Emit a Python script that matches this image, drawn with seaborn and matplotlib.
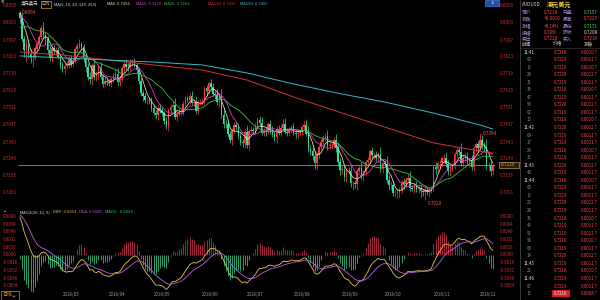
import numpy as np
import pandas as pd
import matplotlib
matplotlib.use("Agg")
import matplotlib.pyplot as plt
from matplotlib.patches import Rectangle
from matplotlib.lines import Line2D
import seaborn as sns

# ---------------- data ----------------
history_closes = [0.7610, 0.7595, 0.7600, 0.7550, 0.7510, 0.7505, 0.7535, 0.7550, 0.7625, 0.7665, 0.7655,
                  0.7665, 0.7675, 0.7680, 0.7690, 0.7705, 0.7710, 0.7730, 0.7765, 0.7790, 0.7805,
                  0.7845, 0.7835, 0.7860, 0.7865, 0.7840, 0.7830, 0.7865, 0.7885, 0.7935, 0.7985, 0.7945,
                  0.7960, 0.7985, 0.8000, 0.7990, 0.7990, 0.8070, 0.8045, 0.8090, 0.8080, 0.8060, 0.8055]

closes_feb = [0.8030, 0.7910, 0.7850, 0.7880, 0.7830, 0.7805, 0.7810, 0.7860, 0.7885, 0.7925,
              0.7975, 0.7935, 0.7910, 0.7850, 0.7810, 0.7860, 0.7845, 0.7850, 0.7815, 0.7765]
closes_mar = [0.7745, 0.7765, 0.7770, 0.7800, 0.7775, 0.7790, 0.7855, 0.7875, 0.7885, 0.7870, 0.7810,
              0.7760, 0.7705, 0.7690, 0.7770, 0.7700, 0.7715, 0.7760, 0.7705, 0.7665, 0.7680, 0.7675]
closes_apr = [0.7670, 0.7690, 0.7705, 0.7720, 0.7675, 0.7695, 0.7750, 0.7775, 0.7760, 0.7755, 0.7780,
              0.7780, 0.7770, 0.7740, 0.7680, 0.7615, 0.7595, 0.7575, 0.7575, 0.7570, 0.7530]
closes_may = [0.7505, 0.7490, 0.7530, 0.7520, 0.7505, 0.7460, 0.7430, 0.7520, 0.7535, 0.7550, 0.7480,
              0.7500, 0.7510, 0.7510, 0.7555, 0.7580, 0.7575, 0.7600, 0.7560, 0.7565, 0.7515, 0.7565, 0.7565]
closes_jun = [0.7570, 0.7640, 0.7625, 0.7670, 0.7645, 0.7610, 0.7605, 0.7565, 0.7595, 0.7495, 0.7445,
              0.7440, 0.7385, 0.7355, 0.7405, 0.7435, 0.7425, 0.7375, 0.7345, 0.7340, 0.7400]
closes_jul = [0.7325, 0.7405, 0.7410, 0.7405, 0.7430, 0.7465, 0.7450, 0.7395, 0.7405, 0.7400, 0.7440,
              0.7410, 0.7385, 0.7370, 0.7415, 0.7395, 0.7420, 0.7445, 0.7400, 0.7395, 0.7410, 0.7425]
closes_aug = [0.7395, 0.7385, 0.7395, 0.7400, 0.7425, 0.7435, 0.7390, 0.7305, 0.7295, 0.7265, 0.7225,
              0.7270, 0.7315, 0.7345, 0.7365, 0.7375, 0.7320, 0.7325, 0.7325, 0.7355, 0.7310, 0.7230, 0.7190]
closes_sep = [0.7190, 0.7150, 0.7185, 0.7180, 0.7115, 0.7115, 0.7110, 0.7185, 0.7200, 0.7155,
              0.7175, 0.7230, 0.7245, 0.7295, 0.7270, 0.7270, 0.7255, 0.7275, 0.7195, 0.7225]
closes_oct = [0.7220, 0.7135, 0.7105, 0.7105, 0.7060, 0.7060, 0.7065, 0.7080, 0.7120, 0.7110, 0.7135,
              0.7145, 0.7090, 0.7085, 0.7105, 0.7085, 0.7090, 0.7070, 0.7065, 0.7075, 0.7065, 0.7080, 0.7085]
closes_nov = [0.7205, 0.7195, 0.7225, 0.7225, 0.7255, 0.7255, 0.7220, 0.7180, 0.7195, 0.7215, 0.7275,
              0.7300, 0.7290, 0.7225, 0.7255, 0.7260, 0.7235, 0.7245, 0.7205, 0.7310, 0.7330, 0.7310]
closes_dec = [0.7355, 0.7325, 0.7315, 0.7215, 0.7215, 0.7180, 0.7216]

# upper / lower shadows in pips
up_wick = [9, 25, 20, 30, 35, 25, 20, 15, 18, 12, 13, 30, 15, 20, 25, 12, 22, 18, 20, 15,
           20, 15, 22, 18, 25, 20, 15, 18, 30, 10, 15, 12, 20, 25, 10, 40, 18, 15, 25, 15, 20, 12,
           18, 15, 20, 25, 30, 15, 12, 20, 25, 18, 20, 22, 25, 12, 20, 15, 18, 20, 15, 18, 20,
           20, 15, 18, 22, 15, 12, 20, 10, 18, 20, 35, 15, 20, 18, 12, 15, 20, 12, 25, 15, 30, 10, 18,
           15, 10, 20, 7, 22, 25, 15, 30, 20, 40, 35, 20, 25, 20, 15, 18, 20, 25, 20, 15, 10,
           35, 10, 20, 15, 18, 15, 20, 30, 15, 20, 12, 25, 20, 18, 15, 20, 15, 25, 30, 20, 15, 12,
           25, 15, 20, 15, 12, 25, 30, 40, 20, 25, 30, 15, 10, 12, 15, 20, 35, 20, 18, 15, 30, 35, 25,
           20, 25, 15, 20, 35, 15, 20, 10, 18, 30, 15, 12, 15, 10, 20, 18, 25, 15, 40, 15,
           20, 45, 25, 20, 30, 15, 18, 15, 12, 25, 15, 20, 40, 15, 12, 25, 18, 20, 15, 25, 18, 12, 15,
           10, 25, 15, 20, 12, 20, 30, 25, 15, 12, 10, 15, 20, 45, 15, 20, 25, 15, 25, 10, 15, 20,
           39, 25, 20, 45, 20, 25, 10]
down_wick = [30, 10, 35, 65, 20, 25, 47, 15, 10, 12, 15, 20, 25, 20, 20, 25, 15, 20, 15, 20,
             15, 25, 15, 20, 15, 20, 12, 15, 10, 20, 25, 30, 20, 25, 30, 12, 20, 25, 15, 20, 15, 18,
             20, 25, 15, 12, 20, 25, 15, 18, 15, 20, 15, 18, 15, 20, 15, 20, 25, 15, 20, 18, 15,
             15, 20, 25, 15, 18, 20, 17, 25, 15, 15, 12, 20, 15, 18, 20, 15, 12, 20, 15, 20, 15, 25, 15,
             20, 15, 25, 15, 12, 15, 25, 15, 30, 20, 25, 20, 15, 20, 30, 15, 18, 15, 20, 25, 30,
             15, 25, 15, 20, 18, 15, 20, 15, 20, 25, 15, 20, 15, 20, 30, 15, 20, 15, 12, 20, 18, 15,
             15, 20, 25, 15, 20, 12, 15, 20, 25, 20, 30, 35, 20, 15, 20, 15, 20, 15, 18, 15, 20, 20, 30,
             25, 20, 30, 15, 20, 35, 20, 35, 15, 15, 25, 20, 15, 20, 15, 20, 15, 20, 20, 25,
             15, 20, 25, 30, 15, 20, 25, 30, 20, 25, 20, 15, 20, 15, 25, 20, 25, 30, 20, 45, 15, 25, 20,
             15, 30, 20, 25, 15, 20, 15, 20, 25, 15, 20, 15, 20, 15, 20, 25, 20, 30, 15, 20, 25, 20,
             15, 20, 25, 20, 30, 25, 20]

# long moving averages (index, value)
ma_long_idx = [0, 20, 42, 63, 86, 107, 129, 152, 172, 195, 217, 223]
ma120_vals = [0.7841, 0.7824, 0.7796, 0.7769, 0.7741, 0.7686, 0.7592, 0.7503, 0.7426, 0.7338, 0.7293, 0.7282]
ma250_vals = [0.7819, 0.7808, 0.7796, 0.7785, 0.7769, 0.7725, 0.7664, 0.7608, 0.7564, 0.7503, 0.7437, 0.7415]

month_labels = ["2018/03", "2018/04", "2018/05", "2018/06", "2018/07",
                "2018/08", "2018/09", "2018/10", "2018/11", "2018/12"]
month_start_idx = [20, 42, 63, 86, 107, 129, 152, 172, 195, 217]

price_ticks = [0.8095, 0.8001, 0.7907, 0.7813, 0.7719, 0.7625, 0.7531, 0.7437, 0.7343, 0.7249, 0.7155, 0.7061]
macd_ticks = [0.0080, 0.0064, 0.0048, 0.0032, 0.0016, 0.0000, -0.0016, -0.0032, -0.0048, -0.0064]
last_price = 0.7216

quote_labels_l = ["现价", "涨跌", "涨幅", "振幅", "卖出"]
quote_values_l = ["0.7218", "+0.0010", "+0.14%", "0.78%", "0.7220"]
quote_labels_r = ["开盘", "最高", "最低", "昨收", "买入"]
quote_values_r = ["0.7157", "0.7227", "0.7171", "0.7208", "0.7216"]

tick_times = ["11:41", "08", "16", "24", "31", "39", "47", "54", "02", "10", "11:42", "09", "17", "24",
              "32", "11:43", "40", "11:44", "05", "13", "20", "28", "36", "43", "51", "58", "06", "14",
              "11:45", "22", "11:46", "07", "15"]
tick_prices = ["0.7218", "0.7219", "0.7218", "0.7220", "0.7219", "0.7218", "0.7219", "0.7220", "0.7219",
               "0.7218", "0.7220", "0.7219", "0.7219", "0.7218", "0.7219", "0.7220", "0.7219", "0.7218",
               "0.7219", "0.7219", "0.7220", "0.7219", "0.7218", "0.7219", "0.7219", "0.7218", "0.7219",
               "0.7220", "0.7219", "0.7218", "0.7219", "0.7219", "0.7216"]
tick_changes = ["0.0010", "0.0011", "0.0010", "0.0012", "0.0011", "0.0010", "0.0011", "0.0012", "0.0011",
                "0.0010", "0.0012", "0.0011", "0.0011", "0.0010", "0.0011", "0.0012", "0.0011", "0.0010",
                "0.0011", "0.0011", "0.0012", "0.0011", "0.0010", "0.0011", "0.0011", "0.0010", "0.0011",
                "0.0012", "0.0011", "0.0010", "0.0011", "0.0011", "0.0008"]

# ---------------- derived ----------------
closes = (closes_feb + closes_mar + closes_apr + closes_may + closes_jun + closes_jul +
          closes_aug + closes_sep + closes_oct + closes_nov + closes_dec)
n = len(closes)
idx = np.arange(n)
opens = np.array([history_closes[-1]] + closes[:-1])
cl = np.array(closes)
highs = np.maximum(opens, cl) + np.array(up_wick) / 10000
lows = np.minimum(opens, cl) - np.array(down_wick) / 10000

all_c = pd.Series(history_closes + closes)
h = len(history_closes)
ma5 = all_c.rolling(5).mean().iloc[h:].to_numpy()
ma10 = all_c.rolling(10).mean().iloc[h:].to_numpy()
ma20 = all_c.rolling(20).mean().iloc[h:].to_numpy()
ema12 = all_c.ewm(span=12, adjust=False).mean()
ema26 = all_c.ewm(span=26, adjust=False).mean()
dif_all = ema12 - ema26
dea_all = dif_all.ewm(span=9, adjust=False).mean()
dif = dif_all.iloc[h:].to_numpy()
dea = dea_all.iloc[h:].to_numpy()
hist = 2 * (dif - dea)

# ---------------- style ----------------
sns.set_style("dark", {"axes.facecolor": "black", "figure.facecolor": "black"})
plt.rcParams['font.family'] = ['Noto Sans CJK SC', 'DejaVu Sans']

W, H = 600, 300
fig = plt.figure(figsize=(6, 3), dpi=100)
fig.patch.set_facecolor("black")
renderer = fig.canvas.get_renderer()


def fx(x):
    return x / W


def fy(y):
    return 1 - y / H


def rect(xl, xr, yt, yb):
    return [fx(xl), fy(yb), (xr - xl) / W, (yb - yt) / H]


def seq_text(x_start, y, items, fontsize, gap=3.0):
    x = x_start
    for txt, col in items:
        t = fig.text(fx(x), fy(y), txt, color=col, fontsize=fontsize, ha="left", va="center")
        bb = t.get_window_extent(renderer=renderer)
        x = x + bb.width + gap
    return x


XL, XR = 18, 495
X0, DX = 20, 2.12
xlim = ((XL - X0) / DX, (XR - X0) / DX)

PPX = 0.0094 / 17  # price per pixel
ax = fig.add_axes(rect(XL, XR, 5, 205))
ax.set_xlim(*xlim)
ax.set_ylim(0.7061 - 12 * PPX, 0.7061 + 188 * PPX)
ax.set_axis_off()

MPX = 0.0016 / 7.7
axm = fig.add_axes(rect(XL, XR, 209, 298))
axm.set_xlim(*xlim)
axm.set_ylim(-43 * MPX, 46 * MPX)
axm.set_axis_off()

UP = "#ff3c3c"
DN = "#2fe0a0"
up_mask = cl >= opens
colors = np.where(up_mask, UP, DN)

# candles
ax.vlines(idx, lows, highs, colors=colors, linewidth=0.5, zorder=2)
body = np.maximum(np.abs(cl - opens), 0.00018)
ax.bar(idx, body, bottom=np.minimum(opens, cl), width=0.72, color=colors, linewidth=0, zorder=3)

# last price line
ax.axhline(last_price, color="#b08a50", linewidth=0.6, zorder=1)

# moving averages
ma_colors = {"MA5": "#ece6b4", "MA10": "#e040d0", "MA20": "#3cc040", "MA120": "#d03434", "MA250": "#38b8c8"}
sns.lineplot(x=idx, y=ma5, ax=ax, color=ma_colors["MA5"], linewidth=0.55, zorder=4)
sns.lineplot(x=idx, y=ma10, ax=ax, color=ma_colors["MA10"], linewidth=0.55, zorder=4)
sns.lineplot(x=idx, y=ma20, ax=ax, color=ma_colors["MA20"], linewidth=0.6, zorder=4)
sns.lineplot(x=ma_long_idx, y=ma120_vals, ax=ax, color=ma_colors["MA120"], linewidth=0.7, zorder=4)
sns.lineplot(x=ma_long_idx, y=ma250_vals, ax=ax, color=ma_colors["MA250"], linewidth=0.7, zorder=4)
ax.set_axis_off()

# extreme labels
imax = int(np.argmax(highs))
imin = int(np.argmin(lows))
ax.text(imax + 0.8, highs[imax] - 0.0005, f"{highs[imax]:.4f}", color="#ff5a5a", fontsize=3.3,
        ha="left", va="center", zorder=6)
ax.text(imin + 1.5, lows[imin] - 0.0003, f"{lows[imin]:.4f}", color="#ff5a5a", fontsize=3.3,
        ha="left", va="top", zorder=6)
idec = 217
ax.text(idec + 1.2, highs[idec] - 0.0004, f"{highs[idec]:.4f}", color="#ff5a5a", fontsize=3.3,
        ha="left", va="center", zorder=6)

# price axis labels (left and right)
for v in price_ticks:
    ypx = 193 - (v - 0.7061) / PPX
    fig.text(fx(3), fy(ypx), f"{v:.4f}", color="#d23030", fontsize=3.3, ha="left", va="center")
    fig.text(fx(500), fy(ypx), f"{v:.4f}", color="#d23030", fontsize=3.3, ha="left", va="center")
ypx_last = 193 - (last_price - 0.7061) / PPX
fig.patches.append(Rectangle((fx(498.5), fy(ypx_last + 3.2)), 20 / W, 6.4 / H, transform=fig.transFigure,
                             facecolor="#2a2010", edgecolor="#c09050", linewidth=0.5))
fig.text(fx(501), fy(ypx_last), f"{last_price:.4f}", color="#d0a060", fontsize=3.3, ha="left", va="center")

# MACD
pos = hist >= 0
axm.vlines(idx[pos], 0, hist[pos], colors="#d03050", linewidth=0.55)
axm.vlines(idx[~pos], 0, hist[~pos], colors="#30c890", linewidth=0.55)
sns.lineplot(x=idx, y=dif, ax=axm, color="#e6c850", linewidth=0.6)
sns.lineplot(x=idx, y=dea, ax=axm, color="#c060e0", linewidth=0.6)
axm.set_axis_off()
for v in macd_ticks:
    ypx = 255 - v / MPX
    fig.text(fx(3), fy(ypx), f"{v:.4f}", color="#d23030", fontsize=3.1, ha="left", va="center")
    fig.text(fx(500), fy(ypx), f"{v:.4f}", color="#d23030", fontsize=3.1, ha="left", va="center")

# date labels
for lab, i in zip(month_labels, month_start_idx):
    xpx = X0 + DX * i
    fig.text(fx(xpx), fy(294.5), lab, color="#9a9a9a", fontsize=3.2, ha="left", va="center")

# headers
fs = 3.0
t1 = fig.text(fx(21), fy(4), "澳元美元", color="#e0e0e0", fontsize=3.2, ha="left", va="center")
bx = 21 + t1.get_window_extent(renderer=renderer).width + 2
t2 = fig.text(fx(bx + 1), fy(4), "日线", color="#e0c060", fontsize=3.0, ha="left", va="center")
bw = t2.get_window_extent(renderer=renderer).width + 2
fig.patches.append(Rectangle((fx(bx), fy(7.5)), bw / W, 7 / H, transform=fig.transFigure,
                             facecolor="none", edgecolor="#c8a040", linewidth=0.5))
header_items = [("MA(5, 10, 20, 120, 250)", "#e0e0e0", max(53, bx + bw + 3)),
                ("MA5: 0.7256", ma_colors["MA5"], 107), ("MA10: 0.7270", ma_colors["MA10"], 136),
                ("MA20: 0.7263", ma_colors["MA20"], 164), ("MA120: 0.7291", ma_colors["MA120"], 208),
                ("MA250: 0.7406", ma_colors["MA250"], 240)]
for txt, col, xp in header_items:
    fig.text(fx(xp), fy(4), txt, color=col, fontsize=fs, ha="left", va="center")

fig.text(fx(2), fy(212), "▪", color="#e0e0e0", fontsize=3, ha="left", va="center")
seq_text(20, 212, [("MACD(26, 12, 9)", "#e0e0e0"), ("DIFF: 0.0013", "#e6c850"),
                   ("DEA: 0.0025", "#c060e0"), ("MACD: -0.0023", "#30c890")], fs, gap=3)

# top-right button & bottom-left tab
fig.patches.append(Rectangle((fx(485), fy(6)), 14 / W, 6 / H, transform=fig.transFigure,
                             facecolor="#2050b0", edgecolor="#6090e0", linewidth=0.4))
fig.text(fx(492), fy(3), "⇕", color="white", fontsize=3.0, ha="center", va="center", family=["DejaVu Sans"])
fig.text(fx(1), fy(1.5), "▣", color="#909090", fontsize=2.6, ha="left", va="center", family=["DejaVu Sans"])
fig.patches.append(Rectangle((fx(0.5), fy(299.5)), 18 / W, 9 / H, transform=fig.transFigure,
                             facecolor="black", edgecolor="#e08a20", linewidth=0.5))
fig.text(fx(2), fy(295), "日线", color="#f09a30", fontsize=3.5, ha="left", va="center")
fig.text(fx(13), fy(295), "▴", color="#f09a30", fontsize=3.2, ha="left", va="center", family=["DejaVu Sans"])

# separators
fig.add_artist(Line2D([fx(520), fx(520)], [0, 1], transform=fig.transFigure, color="#505050", linewidth=0.5))
fig.add_artist(Line2D([fx(520), 1], [fy(48), fy(48)], transform=fig.transFigure, color="#404040", linewidth=0.4))

# side panel quotes
fig.text(fx(522), fy(5), "AUDUSD", color="#d8d8d8", fontsize=3.3, ha="left", va="center")
fig.text(fx(547), fy(5), "澳元美元", color="#f0d040", fontsize=4.4, ha="left", va="center", fontweight="bold")
row_y = [12, 19, 26, 32.5, 39]
val_col_l = ["#ff4848", "#ff4848", "#ff4848", "#ff4848", "#ff4848"]
val_col_r = ["#40e040", "#ff4848", "#40e040", "#e0e0e0", "#ff4848"]
for k, yy in enumerate(row_y):
    fig.text(fx(522), fy(yy), quote_labels_l[k], color="#a68ad8", fontsize=3.4, ha="left", va="center")
    fig.text(fx(544), fy(yy), quote_values_l[k], color=val_col_l[k], fontsize=3.3, ha="left", va="center")
    fig.text(fx(563), fy(yy), quote_labels_r[k], color="#a68ad8", fontsize=3.4, ha="left", va="center")
    fig.text(fx(584), fy(yy), quote_values_r[k], color=val_col_r[k], fontsize=3.3, ha="left", va="center")
fig.text(fx(522), fy(44), "时间", color="#c8c8c8", fontsize=3.4, ha="left", va="center")
fig.text(fx(553), fy(44), "价格", color="#c8c8c8", fontsize=3.4, ha="left", va="center")
fig.text(fx(584), fy(44), "涨跌", color="#c8c8c8", fontsize=3.4, ha="left", va="center")

for k in range(len(tick_times)):
    yy = 52 + 7.55 * k
    t = tick_times[k]
    is_min = ":" in t
    fig.text(fx(529), fy(yy), t, color="#e0e0e0" if is_min else "#8a8a8a", fontsize=3.1,
             ha="center", va="center")
    if k == len(tick_times) - 1:
        fig.patches.append(Rectangle((fx(552), fy(yy + 3.3)), 18 / W, 6.6 / H, transform=fig.transFigure,
                                     facecolor="#d02020", edgecolor="none"))
        pc = "white"
    else:
        pc = "#ff4848"
    fig.text(fx(554), fy(yy), tick_prices[k], color=pc, fontsize=3.2, ha="left", va="center")
    fig.text(fx(581), fy(yy), tick_changes[k] + "↑", color="#ff4848", fontsize=3.2, ha="left", va="center")

fig.savefig("out.png", dpi=100, facecolor="black")
